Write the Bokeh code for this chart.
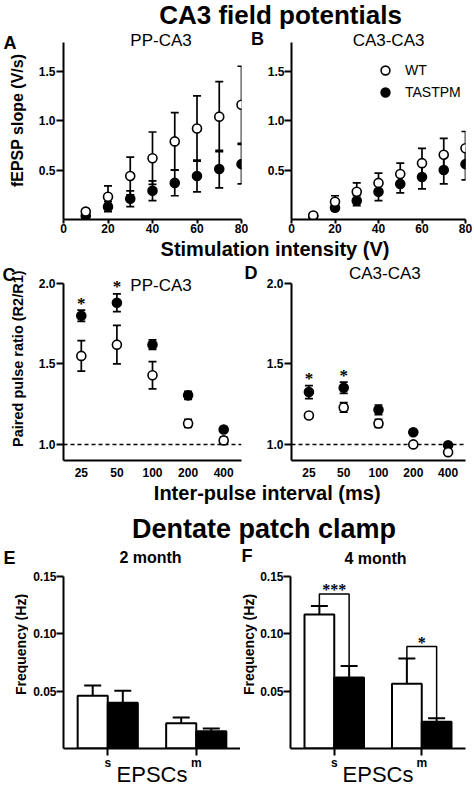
import math
from bokeh.plotting import figure
from bokeh.layouts import column, row
from bokeh.models import (Range1d, FixedTicker, PrintfTickFormatter, Whisker, TeeHead,
                          ColumnDataSource, Label, Span)
from bokeh.embed import file_html
from bokeh.resources import INLINE

FONT = "Liberation Sans"

# ---------------- data ----------------
intensity = [10, 20, 30, 40, 50, 60, 70, 80]
a_wt = [0.08, 0.23, 0.44, 0.62, 0.79, 0.92, 1.04, 1.16]
a_wt_err = [0.02, 0.11, 0.19, 0.265, 0.29, 0.33, 0.355, 0.39]
a_tg = [0.035, 0.13, 0.21, 0.29, 0.37, 0.44, 0.51, 0.56]
a_tg_err = [0.0, 0.05, 0.08, 0.10, 0.13, 0.16, 0.19, 0.20]

b_wt = [0.04, 0.18, 0.28, 0.37, 0.46, 0.57, 0.655, 0.72]
b_wt_err = [0.01, 0.06, 0.09, 0.10, 0.11, 0.15, 0.165, 0.17]
b_tg = [0.035, 0.12, 0.19, 0.28, 0.36, 0.43, 0.50, 0.56]
b_tg_err = [0.0, 0.03, 0.05, 0.09, 0.09, 0.12, 0.14, 0.16]

intervals = ["25", "50", "100", "200", "400"]
c_wt = [1.55, 1.62, 1.43, 1.13, 1.025]
c_wt_err = [0.095, 0.12, 0.085, 0.025, 0.02]
c_tg = [1.80, 1.88, 1.62, 1.305, 1.093]
c_tg_err = [0.035, 0.055, 0.03, 0.025, 0.01]
c_sig = ["*", "*", "", "", ""]

d_wt = [1.18, 1.23, 1.13, 1.00, 0.952]
d_wt_err = [0.015, 0.03, 0.025, 0.01, 0.01]
d_tg = [1.325, 1.352, 1.215, 1.076, 0.995]
d_tg_err = [0.04, 0.035, 0.03, 0.01, 0.01]
d_sig = ["*", "*", "", "", ""]

epsc_types = ["s", "m"]
e_wt = [0.046, 0.022]
e_wt_err = [0.009, 0.005]
e_tg = [0.040, 0.015]
e_tg_err = [0.0105, 0.0025]

f_wt = [0.117, 0.0565]
f_wt_err = [0.0075, 0.022]
f_tg = [0.062, 0.0233]
f_tg_err = [0.010, 0.0031]
f_bracket = [0.135, 0.089]
f_sig = ["***", "*"]

# ---------------- helpers ----------------
def make_panel(w, h, bl, br, bt, bb, xr, yr):
    p = figure(width=w, height=h, x_range=Range1d(*xr), y_range=Range1d(*yr),
               output_backend="svg", toolbar_location=None, title=None,
               min_border_left=bl, min_border_right=br,
               min_border_top=bt, min_border_bottom=bb)
    p.outline_line_color = None
    p.xgrid.visible = False
    p.ygrid.visible = False
    for ax in p.axis:
        ax.axis_line_width = 2
        ax.axis_line_color = "black"
        ax.major_tick_line_width = 2
        ax.major_tick_line_color = "black"
        ax.major_tick_in = 0
        ax.major_tick_out = 7
        ax.minor_tick_line_color = None
        ax.major_label_text_font = FONT
        ax.major_label_text_font_style = "bold"
        ax.major_label_text_font_size = "12px"
        ax.major_label_text_color = "black"
        ax.major_label_standoff = 1
        ax.axis_label_text_font = FONT
        ax.axis_label_text_font_style = "bold"
        ax.axis_label_text_color = "black"
    return p


def to_data(geom, px, py):
    L, T, W, H, (x0, x1), (y0, y1) = geom
    return x0 + (px - L) / W * (x1 - x0), y1 - (py - T) / H * (y1 - y0)


def panel_label(p, geom, px, py, text, size, style="normal"):
    x, y = to_data(geom, px, py)
    p.add_layout(Label(x=x, y=y, text=text, text_font=FONT, text_font_size=f"{size}px",
                       text_font_style=style, text_align="center",
                       text_baseline="middle", text_color="black"))


def add_series(p, x, m, e, fill, label=None):
    lo = [a - b for a, b in zip(m, e)]
    up = [a + b for a, b in zip(m, e)]
    src = ColumnDataSource(dict(x=x, lo=lo, up=up))
    p.add_layout(Whisker(base="x", lower="lo", upper="up", source=src,
                         line_width=1.7, line_color="black", level="underlay",
                         upper_head=TeeHead(size=8, line_width=1.7, line_color="black"),
                         lower_head=TeeHead(size=8, line_width=1.7, line_color="black")))
    kw = dict(legend_label=label) if label else {}
    p.scatter(x, m, size=9, marker="circle", fill_color=fill, line_color="black",
              line_width=1.6, **kw)


def add_bars(p, pos, m, e, fill, off):
    x = [q + off for q in pos]
    p.vbar(x=x, top=m, bottom=0, width=0.34, fill_color=fill, line_color="black",
           line_width=2)
    src = ColumnDataSource(dict(x=x, lo=m, up=[a + b for a, b in zip(m, e)]))
    p.add_layout(Whisker(base="x", lower="lo", upper="up", source=src,
                         line_width=2, line_color="black",
                         upper_head=TeeHead(size=17, line_width=2, line_color="black"),
                         lower_head=None))
    return x


def text_box(w, h, left, top, items):
    """Plain text area; items are (page_x, page_center_y, text, size, style, align, angle)."""
    p = figure(width=w, height=h, x_range=Range1d(0, w), y_range=Range1d(0, h),
               x_axis_type=None, y_axis_type=None, output_backend="svg",
               toolbar_location=None, title=None,
               min_border=0, min_border_left=0, min_border_right=0,
               min_border_top=0, min_border_bottom=0)
    p.outline_line_color = None
    for px, py, t, size, style, align, ang in items:
        p.add_layout(Label(x=px - left, y=h - (py - top), text=t, text_font=FONT,
                           text_font_size=f"{size}px", text_font_style=style,
                           text_align=align, text_baseline="middle", angle=ang,
                           text_color="black"))
    return p

UP = math.pi / 2

# ---------------- block 1: A, B (page y 29 -> 237) ----------------
yA_max = 1.79 * 190 / 177
xr_ab, yr_ab = (0, 80), (0, yA_max)
gA = (63, 29, 178, 190, xr_ab, yr_ab)
gB = (288, 29, 177, 190, xr_ab, yr_ab)

pA = make_panel(222, 208, 35, 9, 0, 18, xr_ab, yr_ab)
pB = make_panel(210, 208, 24, 9, 0, 18, xr_ab, yr_ab)
for p in (pA, pB):
    p.xaxis.ticker = FixedTicker(ticks=[0, 20, 40, 60, 80])
    p.yaxis.ticker = FixedTicker(ticks=[0.5, 1.0, 1.5])
    p.yaxis.formatter = PrintfTickFormatter(format="%.1f")
    p.yaxis.bounds = (0, 1.79)
    p.xaxis.major_tick_out = 4
    p.xaxis.major_label_standoff = 0
pB.yaxis.major_label_standoff = 0

add_series(pA, intensity, a_tg, a_tg_err, "black")
add_series(pA, intensity, a_wt, a_wt_err, "white")
add_series(pB, intensity, b_tg, b_tg_err, "black", "TASTPM")
add_series(pB, intensity, b_wt, b_wt_err, "white", "WT")

leg = pB.legend[0]
leg.items = list(reversed(leg.items))
leg.location = (83, 116)
leg.border_line_color = None
leg.background_fill_alpha = 0
leg.padding = 0
leg.margin = 0
leg.spacing = 0
leg.glyph_width = 22
leg.glyph_height = 22
leg.label_height = 22
leg.label_standoff = 9
leg.label_text_font = FONT
leg.label_text_font_size = "14px"
leg.label_text_color = "black"

panel_label(pA, gA, 160.5, 40, "PP-CA3", 17)
panel_label(pB, gB, 386.7, 40, "CA3-CA3", 17)

leftA = text_box(28, 208, 0, 29, [
    (3, 43.5, "A", 18, "bold", "left", 0),
    (16.5, 128.5, "fEPSP slope (V/s)", 16, "bold", "center", UP),
])
midB = text_box(14, 208, 250, 29, [
    (250.5, 39, "B", 18, "bold", "left", 0),
])

# ---------------- block 2: C, D (page y 260 -> 481) ----------------
yC_max = 0.9 + 1.1 * 200 / 177
xr_cd, yr_cd = (0.5, 5.5), (0.9, yC_max)
gC = (63, 260, 178, 200, xr_cd, yr_cd)
gD = (288, 260, 177, 200, xr_cd, yr_cd)
pos5 = list(range(1, len(intervals) + 1))

pC = make_panel(215, 221, 35, 2, 0, 21, xr_cd, yr_cd)
pD = make_panel(211, 221, 25, 9, 0, 21, xr_cd, yr_cd)
for p in (pC, pD):
    p.xaxis.ticker = FixedTicker(ticks=pos5)
    p.xaxis.major_label_overrides = {q: lab for q, lab in zip(pos5, intervals)}
    p.xaxis.major_tick_out = 0
    p.xaxis.major_label_standoff = 7
    p.yaxis.ticker = FixedTicker(ticks=[1.0, 1.5, 2.0])
    p.yaxis.formatter = PrintfTickFormatter(format="%.1f")
    p.yaxis.bounds = (0.9, 2.0)
    p.add_layout(Span(location=1.0, dimension="width", line_color="black",
                      line_width=1.5, line_dash="4 3", level="underlay"))

for p, wt, wte, tg, tge, sig in ((pC, c_wt, c_wt_err, c_tg, c_tg_err, c_sig),
                                 (pD, d_wt, d_wt_err, d_tg, d_tg_err, d_sig)):
    add_series(p, pos5, tg, tge, "black")
    add_series(p, pos5, wt, wte, "white")
    p.text(x=pos5, y=[a + b for a, b in zip(tg, tge)], text=sig, text_font=FONT,
           text_font_size="17px", text_font_style="bold", text_align="center",
           text_baseline="middle", text_color="black", y_offset=-7)

panel_label(pC, gC, 160.5, 284.5, "PP-CA3", 17)
panel_label(pD, gD, 383, 272.5, "CA3-CA3", 17)

leftC = text_box(28, 221, 0, 260, [
    (2, 276.5, "C", 18, "bold", "left", 0),
    (17.5, 368.5, "Paired pulse ratio (R2/R1)", 14.5, "bold", "center", UP),
])
midD = text_box(20, 221, 243, 260, [
    (244, 273.5, "D", 18, "bold", "left", 0),
])

# ---------------- block 3: E, F (page y 545 -> 789) ----------------
yE_max = 0.15 * 208 / 176
xr_ef, yr_ef = (0.5, 2.5), (0, yE_max)
gE = (63, 545, 177, 208, xr_ef, yr_ef)
gF = (288, 545, 177, 208, xr_ef, yr_ef)
pos2 = list(range(1, len(epsc_types) + 1))

pE = make_panel(212, 244, 35, 0, 0, 36, xr_ef, yr_ef)
pF = make_panel(217, 244, 31, 9, 0, 36, xr_ef, yr_ef)
for p in (pE, pF):
    p.xaxis.ticker = FixedTicker(ticks=pos2)
    p.xaxis.major_label_overrides = {q: lab for q, lab in zip(pos2, epsc_types)}
    p.xaxis.major_label_standoff = 0
    p.xaxis.axis_label = "EPSCs"
    p.xaxis.axis_label_text_font_size = "22px"
    p.xaxis.axis_label_text_font_style = "normal"
    p.xaxis.axis_label_standoff = -11
    p.yaxis.ticker = FixedTicker(ticks=[0.05, 0.10, 0.15])
    p.yaxis.formatter = PrintfTickFormatter(format="%.2f")
    p.yaxis.bounds = (0, 0.15)
    p.yaxis.major_label_standoff = 0

add_bars(pE, pos2, e_wt, e_wt_err, "white", -0.17)
add_bars(pE, pos2, e_tg, e_tg_err, "black", 0.17)
xw = add_bars(pF, pos2, f_wt, f_wt_err, "white", -0.17)
xt = add_bars(pF, pos2, f_tg, f_tg_err, "black", 0.17)

bxs, bys = [], []
for i in range(len(pos2)):
    bxs.append([xw[i], xw[i], xt[i], xt[i]])
    bys.append([f_wt[i] + f_wt_err[i], f_bracket[i], f_bracket[i], f_tg[i] + f_tg_err[i]])
pF.multi_line(xs=bxs, ys=bys, line_color="black", line_width=1.5)
pF.text(x=[(a + b) / 2 for a, b in zip(xw, xt)], y=f_bracket, text=f_sig, text_font=FONT,
        text_font_size="16px", text_font_style="bold", text_align="center",
        text_baseline="middle", text_color="black", y_offset=-4.5)

panel_label(pE, gE, 150, 557.5, "2 month", 16, "bold")
panel_label(pF, gF, 374, 558, "4 month", 16, "bold")

leftE = text_box(28, 244, 0, 545, [
    (3, 560.5, "E", 18, "bold", "left", 0),
    (20, 664, "Frequency (Hz)", 14, "bold", "center", UP),
])
midF = text_box(17, 244, 240, 545, [
    (241, 557.5, "F", 18, "bold", "left", 0),
    (248.5, 664, "Frequency (Hz)", 14, "bold", "center", UP),
])

# ---------------- full-width text strips ----------------
s1 = text_box(474, 29, 0, 0, [
    (280, 14.5, "CA3 field potentials", 26, "bold", "center", 0),
])
s2 = text_box(474, 23, 0, 237, [
    (274.5, 248.5, "Stimulation intensity (V)", 20, "bold", "center", 0),
])
s3 = text_box(474, 64, 0, 481, [
    (266.7, 492, "Inter-pulse interval (ms)", 20, "bold", "center", 0),
    (263.5, 528, "Dentate patch clamp", 27, "bold", "center", 0),
])

layout = column(s1, row(leftA, pA, midB, pB), s2, row(leftC, pC, midD, pD),
                s3, row(leftE, pE, midF, pF))

open("out.html", "w").write(file_html(layout, INLINE))
